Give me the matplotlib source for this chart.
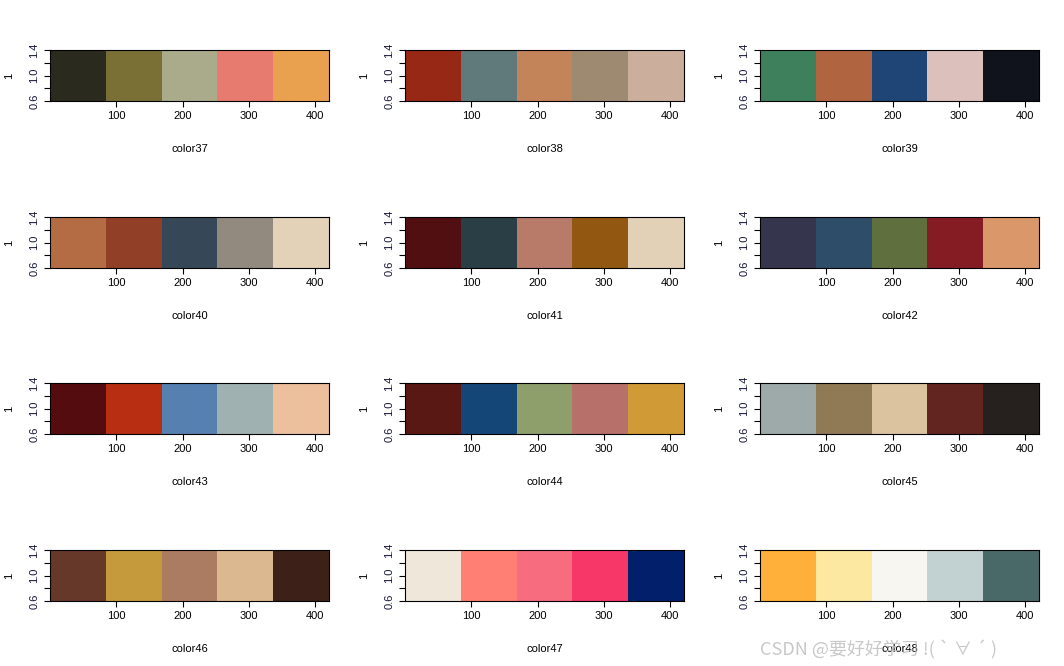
import matplotlib
matplotlib.use("Agg")
import matplotlib.pyplot as plt
import numpy as np
from matplotlib.colors import ListedColormap

names = ["color37","color38","color39","color40","color41","color42",
         "color43","color44","color45","color46","color47","color48"]
palettes = [
 ["#2a2a1e","#7a7035","#a9ab8b","#e87b6f","#e9a04f"],
 ["#962815","#607a7c","#c4845a","#9d8a71","#cbae9c"],
 ["#3e7f5c","#b06540","#1f4476","#dbc0bc","#10131c"],
 ["#b36c44","#913f26","#364858","#928a7f","#e3d2b8"],
 ["#520f12","#293e45","#b87b6a","#925811","#e3d1b7"],
 ["#35364d","#2e4d68","#5f6f3e","#861c23","#da986a"],
 ["#540c0e","#b82e12","#5580b0","#9fb2b1","#ecbf9d"],
 ["#5a1814","#154678","#8f9f6c","#b8706a","#d09b36"],
 ["#9eaaaa","#907a56","#dcc3a0","#632520","#26211f"],
 ["#66382a","#c49a3c","#ab7c62","#dcb890","#3d2018"],
 ["#efe8da","#ff7f75","#f76c7e","#f63768","#011f6a"],
 ["#ffb03a","#fde8a2","#f7f6f1","#c2d1d1","#486968"],
]
xticks = [100, 200, 300, 400]
yticks = [0.6, 0.8, 1.0, 1.2, 1.4]
ylabels = ["0.6", "", "1.0", "", "1.4"]

plt.rcParams['font.family'] = ['Liberation Sans', 'DejaVu Sans']
W, H = 1064, 666
fig = plt.figure(figsize=(W/100, H/100), dpi=100)
lefts = [50, 405, 760]
tops = [50, 217, 383, 550]
pw, ph = 279, 51
for i, (nm, pal) in enumerate(zip(names, palettes)):
    r, c = divmod(i, 3)
    ax = fig.add_axes([lefts[c]/W, 1-(tops[r]+ph)/H, pw/W, ph/H])
    n = 420
    idx = (np.arange(n) * len(pal) // n).reshape(n, 1)
    ax.pcolormesh(np.arange(n+1)+0.5, [0.6, 1.4], idx.T,
                  cmap=ListedColormap(pal), vmin=-0.5, vmax=len(pal)-0.5)
    ax.set_xlim(0.5, 420.5)
    ax.set_ylim(0.6, 1.4)
    ax.set_xticks(xticks)
    ax.set_yticks(yticks)
    ax.set_yticklabels(ylabels, rotation=90, va='center', color='#14143a')
    ax.tick_params(labelsize=8, direction='out', length=4)
    ax.set_xlabel(nm, fontsize=8, labelpad=16)
    ax.set_ylabel("1", fontsize=8, labelpad=11)
    for s in ax.spines.values():
        s.set_linewidth(0.8)

fig.text(760/W, 1-650/H, "CSDN @要好好学习 !( ` ∀ ´ )", fontsize=13, color='#bbbbbb',
         family=['Noto Sans CJK SC', 'DejaVu Sans'], va='center', alpha=0.8)
fig.savefig("out.png", dpi=100)
